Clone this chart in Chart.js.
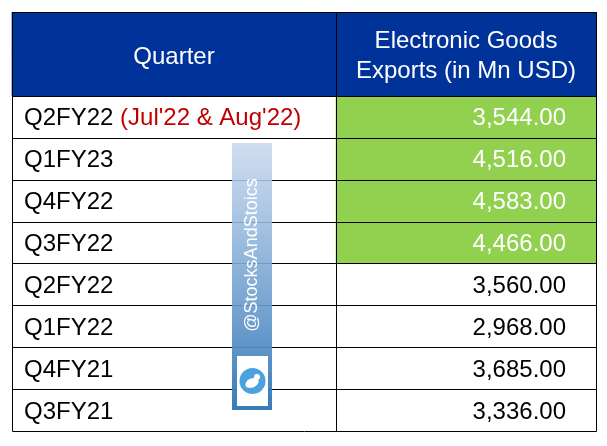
<!DOCTYPE html>
<html>
<head>
<meta charset="utf-8">
<script src="https://cdn.jsdelivr.net/npm/chart.js@4/dist/chart.umd.min.js"></script>
<style>
  html, body { margin: 0; padding: 0; background: #fff; }
  #wrap { width: 607px; height: 446px; }
</style>
</head>
<body>
<div id="wrap"><canvas id="tbl" width="607" height="446"></canvas></div>
<script>
// dati della tabella
const quarters = ['Q2FY22', 'Q1FY23', 'Q4FY22', 'Q3FY22', 'Q2FY22', 'Q1FY22', 'Q4FY21', 'Q3FY21'];
const notes = ["(Jul'22 & Aug'22)", '', '', '', '', '', '', ''];
const exportsMn = [3544, 4516, 4583, 4466, 3560, 2968, 3685, 3336];
const highlighted = [true, true, true, true, false, false, false, false];
const headerCols = ['Quarter', 'Electronic Goods|Exports (in Mn USD)'];

const rowLabels = ['h1', 'h2'].concat(quarters.map((q, i) => 'r' + i));
const colEdges = [12, 336, 596];

const BLUE = '#003399';
const GREEN = '#92D050';
const FONT = '"Liberation Sans", Arial, sans-serif';

const fmt = v => v.toLocaleString('en-US', { minimumFractionDigits: 2, maximumFractionDigits: 2 });

// celle di sfondo come barre orizzontali flottanti
const headerBg = rowLabels.map((l, i) => i < 2 ? [colEdges[0], colEdges[2]] : null);
const greenBg = rowLabels.map((l, i) => i >= 2 && highlighted[i - 2] ? [colEdges[1], colEdges[2]] : null);

const tablePlugin = {
  id: 'tablePlugin',
  afterDatasetsDraw(chart) {
    const ctx = chart.ctx;
    const x = chart.scales.x, y = chart.scales.y;
    const slot = y.getPixelForValue(1) - y.getPixelForValue(0);
    const top = y.getPixelForValue(0) - slot / 2;
    const bottom = y.getPixelForValue(rowLabels.length - 1) + slot / 2;
    const xl = x.getPixelForValue(colEdges[0]);
    const xm = x.getPixelForValue(colEdges[1]);
    const xr = x.getPixelForValue(colEdges[2]);

    ctx.save();
    // griglia
    ctx.strokeStyle = '#000';
    ctx.lineWidth = 1;
    ctx.beginPath();
    ctx.rect(xl + 0.5, top + 0.5, xr - xl, bottom - top);
    ctx.moveTo(xm + 0.5, top); ctx.lineTo(xm + 0.5, bottom);
    for (let i = 2; i < rowLabels.length; i++) {
      const yy = Math.round(y.getPixelForValue(i) - slot / 2) + 0.5;
      ctx.moveTo(xl, yy); ctx.lineTo(xr, yy);
    }
    ctx.stroke();

    // intestazione
    const hMid = (y.getPixelForValue(0) + y.getPixelForValue(1)) / 2;
    ctx.fillStyle = '#fff';
    ctx.font = '24px ' + FONT;
    ctx.textAlign = 'center';
    ctx.textBaseline = 'middle';
    ctx.fillText(headerCols[0], (xl + xm) / 2, hMid + 3);
    const lines = headerCols[1].split('|');
    ctx.fillText(lines[0], (xm + xr) / 2, hMid - 13);
    ctx.fillText(lines[1], (xm + xr) / 2, hMid + 17);

    // righe
    ctx.font = '24px ' + FONT;
    quarters.forEach((q, i) => {
      const yy = y.getPixelForValue(i + 2) + 2;
      ctx.textAlign = 'left';
      ctx.fillStyle = '#000';
      ctx.fillText(q, xl + 12, yy);
      if (notes[i]) {
        const w = ctx.measureText(q + ' ').width;
        ctx.fillStyle = '#C00000';
        ctx.fillText(notes[i], xl + 12 + w, yy);
      }
      ctx.textAlign = 'right';
      ctx.fillStyle = highlighted[i] ? '#fff' : '#000';
      ctx.fillText(fmt(exportsMn[i]), x.getPixelForValue(566), yy);
    });
    ctx.restore();
  },
  afterDraw(chart) {
    // filigrana
    const ctx = chart.ctx;
    ctx.save();
    const g = ctx.createLinearGradient(0, 143, 0, 410);
    g.addColorStop(0, 'rgba(200,216,238,0.85)');
    g.addColorStop(1, 'rgba(46,117,182,0.95)');
    ctx.fillStyle = g;
    ctx.fillRect(232, 143, 40, 267);
    ctx.translate(252, 255);
    ctx.rotate(-Math.PI / 2);
    ctx.fillStyle = '#fff';
    ctx.font = '18px ' + FONT;
    ctx.textAlign = 'center';
    ctx.textBaseline = 'middle';
    ctx.fillText('@StocksAndStoics', 0, 0);
    ctx.restore();
    ctx.save();
    ctx.fillStyle = '#fff';
    ctx.fillRect(237, 356, 31, 50);
    ctx.fillStyle = '#4aa3df';
    ctx.beginPath(); ctx.arc(252.5, 381, 13, 0, Math.PI * 2); ctx.fill();
    ctx.fillStyle = '#fff';
    ctx.beginPath(); ctx.ellipse(252, 383, 7, 4.5, -0.4, 0, Math.PI * 2); ctx.fill();
    ctx.beginPath(); ctx.arc(257, 377, 3, 0, Math.PI * 2); ctx.fill();
    ctx.restore();
  }
};

new Chart(document.getElementById('tbl').getContext('2d'), {
  type: 'bar',
  data: {
    labels: rowLabels,
    datasets: [
      { data: headerBg, backgroundColor: BLUE, borderWidth: 0, categoryPercentage: 1, barPercentage: 1, grouped: false },
      { data: greenBg, backgroundColor: GREEN, borderWidth: 0, categoryPercentage: 1, barPercentage: 1, grouped: false }
    ]
  },
  options: {
    indexAxis: 'y',
    responsive: false,
    animation: false,
    devicePixelRatio: 1,
    layout: { padding: { top: 12, bottom: 15, left: 0, right: 0 } },
    plugins: { legend: { display: false }, tooltip: { enabled: false } },
    scales: {
      x: { type: 'linear', min: 0, max: 607, display: false },
      y: { type: 'category', display: false }
    }
  },
  plugins: [tablePlugin]
});
</script>
</body>
</html>
